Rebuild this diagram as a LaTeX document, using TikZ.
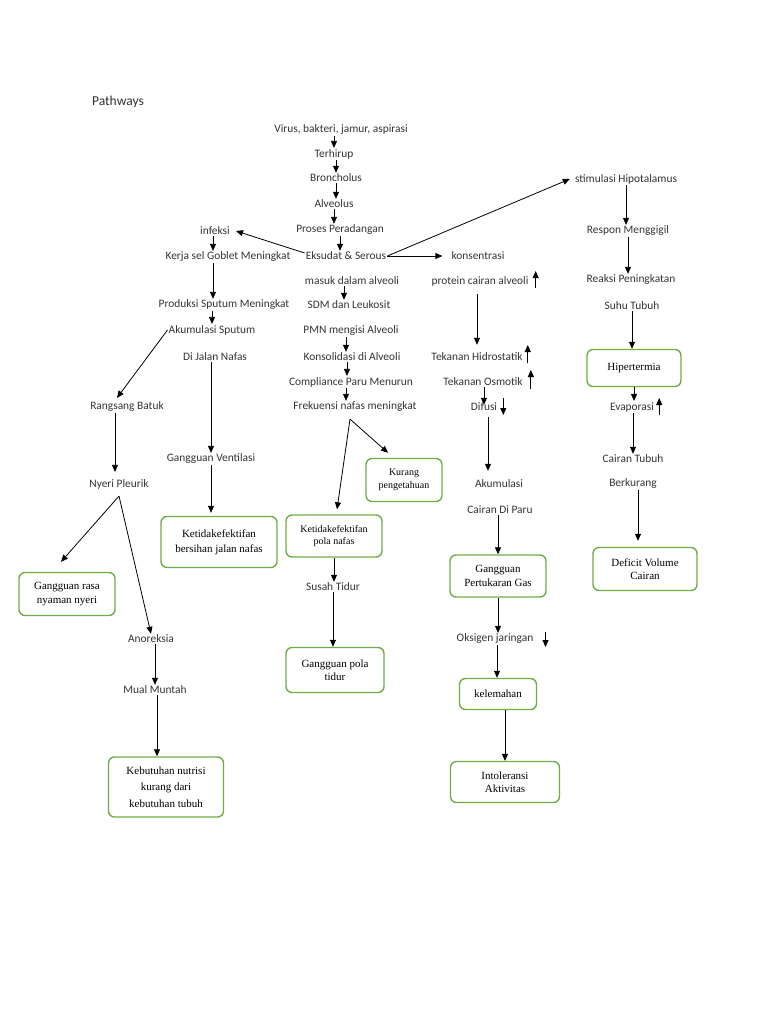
\documentclass[tikz,border=0pt]{standalone}
\usepackage{fontspec}
\setmainfont{Carlito}
\newfontfamily\boxfont{Liberation Serif}
\usepackage{xcolor}
\usetikzlibrary{positioning, arrows.meta, shapes}

\definecolor{boxgreen}{RGB}{112,173,71}

\begin{document}
\begin{tikzpicture}[
    x=1pt, y=-1pt,
    stage/.style={inner sep=1pt, text=black!80, font=\fontsize{11.4}{13}\selectfont},
    diagnosis/.style={draw=boxgreen, line width=1.4pt, rounded corners=6pt, align=center, text=black, inner sep=2pt, font=\boxfont\fontsize{11}{13.5}\selectfont},
    smallbox/.style={diagnosis, font=\boxfont\fontsize{10}{12.5}\selectfont},
    flow/.style={-{Triangle[length=7pt,width=6pt]}, line width=0.8pt}
]
\useasboundingbox (0,0) rectangle (768,1024);

% Title
\node[stage, font=\fontsize{13.6}{16}\selectfont] (title) at (118,102) {Pathways};

% Main chain
\node[stage] (virus) at (341,130) {Virus, bakteri, jamur, aspirasi};
\node[stage] (terh) at (334,154) {Terhirup};
\node[stage] (bronc) at (336,178) {Broncholus};
\node[stage] (alv) at (334,204) {Alveolus};
\node[stage] (proses) at (340,230) {Proses Peradangan};
\node[stage] (eks) at (346,256) {Eksudat \& Serous};
\node[stage] (masuk) at (352,281) {masuk dalam alveoli};
\node[stage] (sdm) at (349,305) {SDM dan Leukosit};
\node[stage] (pmn) at (351,331) {PMN mengisi Alveoli};
\node[stage] (kons) at (352,357) {Konsolidasi di Alveoli};
\node[stage] (compl) at (351,382) {Compliance Paru Menurun};
\node[stage] (frek) at (355,407) {Frekuensi nafas meningkat};

% Left branch
\node[stage] (infeksi) at (215,231) {infeksi};
\node[stage] (goblet) at (228,257) {Kerja sel Goblet Meningkat};
\node[stage] (prod) at (224,305) {Produksi Sputum Meningkat};
\node[stage] (akum) at (212,330) {Akumulasi Sputum};
\node[stage] (jalan) at (215,357) {Di Jalan Nafas};
\node[stage] (vent) at (211,459) {Gangguan Ventilasi};
\node[stage] (batuk) at (127,407) {Rangsang Batuk};
\node[stage] (nyeri) at (119,484) {Nyeri Pleurik};
\node[stage] (anor) at (151,639) {Anoreksia};
\node[stage] (mual) at (155,690) {Mual Muntah};

\node[diagnosis, minimum width=116pt, minimum height=51pt, font=\boxfont\fontsize{11}{15}\selectfont] (bersihan) at (219,542) {Ketidakefektifan\\bersihan jalan nafas};
\node[diagnosis, minimum width=96pt, minimum height=43pt] (rasa) at (67,594) {Gangguan rasa\\nyaman nyeri};
\node[diagnosis, minimum width=115pt, minimum height=60pt, font=\boxfont\fontsize{11}{16.5}\selectfont] (nutrisi) at (166,787) {Kebutuhan nutrisi\\kurang dari\\kebutuhan tubuh};

% Middle branch
\node[smallbox, minimum width=96pt, minimum height=42pt] (polanafas) at (334,536) {Ketidakefektifan\\pola nafas};
\node[smallbox, minimum width=76pt, minimum height=43pt] (kurang) at (404,480) {Kurang\\pengetahuan};
\node[stage] (susah) at (333,587) {Susah Tidur};
\node[diagnosis, minimum width=98pt, minimum height=45pt] (polatidur) at (335,670) {Gangguan pola\\tidur};

% Right-middle branch
\node[stage] (konsen) at (478,256) {konsentrasi};
\node[stage] (prot) at (480,281) {protein cairan alveoli};
\node[stage] (hidro) at (477,357) {Tekanan Hidrostatik};
\node[stage] (osmo) at (483,382) {Tekanan Osmotik};
\node[stage] (difusi) at (484,407) {Difusi};
\node[stage] (akcair) at (499,484) {Akumulasi};
\node[stage] (paru) at (500,510) {Cairan Di Paru};
\node[diagnosis, minimum width=96pt, minimum height=42pt] (gasx) at (498,576) {Gangguan\\Pertukaran Gas};
\node[stage] (oksi) at (495,639) {Oksigen jaringan};
\node[diagnosis, minimum width=77pt, minimum height=31pt] (lemah) at (498,694) {kelemahan};
\node[diagnosis, minimum width=109pt, minimum height=41pt] (intol) at (505,782) {Intoleransi\\Aktivitas};

% Right branch
\node[stage] (stim) at (626,179) {stimulasi Hipotalamus};
\node[stage] (respon) at (628,231) {Respon Menggigil};
\node[stage] (reaksi) at (631,280) {Reaksi Peningkatan};
\node[stage] (suhu) at (632,306) {Suhu Tubuh};
\node[diagnosis, minimum width=94pt, minimum height=37pt] (hiper) at (634,368) {Hipertermia};
\node[stage] (evap) at (632,407) {Evaporasi};
\node[stage] (cairan) at (633,459) {Cairan Tubuh};
\node[stage] (berk) at (633,484) {Berkurang};
\node[diagnosis, minimum width=104pt, minimum height=43pt] (deficit) at (645,569) {Deficit Volume\\Cairan};

% Split points
\coordinate (fsplit) at ([xshift=-5pt,yshift=-6pt]frek.south);
\coordinate (nsplit) at ([yshift=-6pt]nyeri.south);

% Main chain arrows
\draw[flow] (virus.south -| terh) -- (terh.north);
\draw[flow] (terh.south -| bronc) -- (bronc.north);
\draw[flow] (bronc.south) -- (bronc.south |- alv.north);
\draw[flow] (alv.south) -- (alv.south |- proses.north);
\draw[flow] (proses.south) -- (proses.south |- eks.north);
\draw[flow] ([xshift=-8pt]masuk.south) -- ([xshift=-8pt]masuk.south |- sdm.north);
\draw[flow] ([xshift=-5pt]pmn.south) -- ([xshift=-5pt]pmn.south |- kons.north);
\draw[flow] ([xshift=-5pt]kons.south) -- ([xshift=-5pt]kons.south |- compl.north);
\draw[flow] ([xshift=-5pt]compl.south) -- ([xshift=-5pt]compl.south |- frek.north);

% Left arrows
\draw[flow] ([yshift=3pt]eks.west) -- ([xshift=5pt]infeksi.east);
\draw[flow] ([xshift=-2pt]infeksi.south) -- ([xshift=-2pt]infeksi.south |- goblet.north);
\draw[flow] ([xshift=-15pt]goblet.south) -- ([xshift=-11pt]prod.north);
\draw[flow] (prod.south -| akum) -- (akum.north);
\draw[flow] (jalan.south -| vent) -- (vent.north);
\draw[flow, shorten >=3pt] (vent.south) -- (vent.south |- bersihan.north);
\draw[flow] (akum.west) -- ([xshift=-10pt,yshift=3pt]batuk.north);
\draw[flow] ([xshift=-12pt]batuk.south) -- ([xshift=-4pt,yshift=6pt]nyeri.north);
\draw[flow] (nsplit) -- ([xshift=-6pt,yshift=10pt]rasa.north);
\draw[flow] (nsplit) -- (anor.north);
\draw[flow] (anor.south -| mual) -- (mual.north);
\draw[flow] ([xshift=2pt]mual.south) -- ([xshift=2pt]mual.south |- nutrisi.north);

% Middle arrows
\draw[flow] (fsplit) -- ([xshift=3pt,yshift=5pt]polanafas.north);
\draw[flow] (fsplit) -- ([xshift=-16pt,yshift=5pt]kurang.north);
\draw[flow] (polanafas.south) -- (polanafas.south |- susah.north);
\draw[flow] (susah.south) -- (susah.south |- polatidur.north);

% Right-middle arrows
\draw[flow, shorten >=8pt] (eks.east) -- (konsen.west);
\draw[flow] (eks.east) -- ([xshift=-4pt]stim.west);
\draw[flow] ([yshift=-7pt]prot.south -| hidro) -- ([yshift=7pt]hidro.north);
\draw[flow] (osmo.south -| difusi) -- ([yshift=-3pt]difusi.north);
\draw[flow] ([xshift=4pt,yshift=-5pt]difusi.south) -- ([xshift=4pt,yshift=8pt]difusi.south |- akcair.north);
\draw[flow] (paru.south -| gasx) -- (gasx.north);
\draw[flow] (gasx.south) -- (gasx.south |- oksi.north);
\draw[flow] ([xshift=2pt]oksi.south) -- ([xshift=2pt]oksi.south |- lemah.north);
\draw[flow] (lemah.south -| intol) -- (intol.north);

% Right arrows
\draw[flow] (stim.south) -- (stim.south |- respon.north);
\draw[flow] (respon.south) -- (respon.south |- reaksi.north);
\draw[flow] (suhu.south) -- (suhu.south |- hiper.north);
\draw[flow] (hiper.south) -- (hiper.south |- evap.north);
\draw[flow] (evap.south -| cairan) -- (cairan.north);
\draw[flow] ([xshift=5pt]berk.south) -- ([xshift=-7pt,yshift=6pt]deficit.north);

% Up / down markers
\draw[flow] ([xshift=6pt,yshift=-7pt]prot.east) -- ++(0,-17);
\draw[flow] ([xshift=4pt,yshift=-6pt]hidro.east) -- ++(0,-18);
\draw[flow] ([xshift=7pt,yshift=-7pt]osmo.east) -- ++(0,-19);
\draw[flow] ([xshift=5pt,yshift=9pt]difusi.east) -- ++(0,17);
\draw[flow] ([xshift=11pt,yshift=7pt]oksi.east) -- ++(0,15);
\draw[flow] ([xshift=4pt,yshift=-8pt]evap.east) -- ++(0,-17);

\end{tikzpicture}
\end{document}
